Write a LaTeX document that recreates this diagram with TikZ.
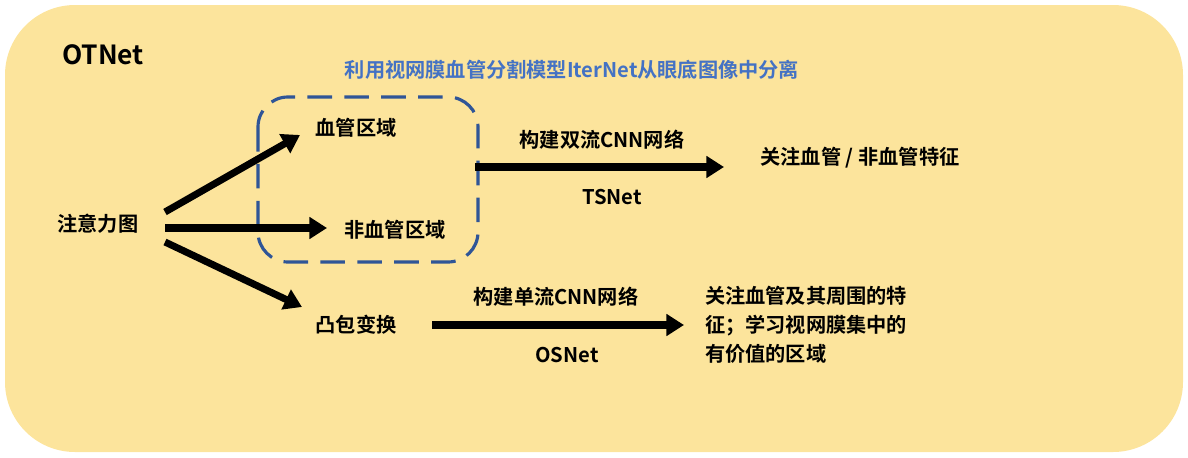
\documentclass[tikz,border=0pt]{standalone}
\usepackage{fontspec}
\setmainfont{Noto Sans CJK SC}[BoldFont={Noto Sans CJK SC Bold}]
\usetikzlibrary{arrows.meta}
\definecolor{bg}{HTML}{FCE49C}
\definecolor{tb}{HTML}{4472C4}
\definecolor{db}{HTML}{2F5597}
\tikzset{
 lab/.style={font=\bfseries\fontsize{11.5}{14}\selectfont, inner sep=1pt},
 arr/.style={line width=4pt, -{Triangle[length=10pt,width=12pt]}}
}
\begin{document}
\begin{tikzpicture}[x=0.02cm,y=-0.02cm]
\useasboundingbox (0,0) rectangle (1188,457);
\fill[bg, rounded corners=1.4cm] (5,5) rectangle (1183,452);
\node[font=\bfseries\fontsize{15}{18}\selectfont] (ot) at (103,55) {OTNet};
\node[lab, text=tb] (title) at (572,70) {利用视网膜血管分割模型IterNet从眼底图像中分离};
\draw[db, line width=1.8pt, dash pattern=on 14pt off 7pt, rounded corners=0.6cm] (258,97) rectangle (478,262);
\node[lab] (att) at (98,224) {注意力图};
\node[lab] (v) at (356,128) {血管区域};
\node[lab] (nv) at (395,230) {非血管区域};
\node[lab] (hull) at (356,325) {凸包变换};
\coordinate (a1) at (165,212); \coordinate (b1) at (300,135);
\coordinate (a2) at (165,228); \coordinate (b2) at (327,228);
\coordinate (a3) at (165,242); \coordinate (b3) at (302,307);
\draw[arr] (a1) -- (b1);
\draw[arr] (a2) -- (b2);
\draw[arr] (a3) -- (b3);
\coordinate (c1) at (475,167); \coordinate (d1) at (724,167);
\draw[arr] (c1) -- (d1);
\node[lab] (l1) at (602,140) {构建双流CNN网络};
\node[lab] (ts) at (612,197) {TSNet};
\node[lab] (r1) at (860,158) {关注血管 / 非血管特征};
\coordinate (c2) at (432,325); \coordinate (d2) at (684,325);
\draw[arr] (c2) -- (d2);
\node[lab] (l2) at (556,297) {构建单流CNN网络};
\node[lab] (os) at (567,355) {OSNet};
\node[lab, anchor=north west, align=left, font=\bfseries\fontsize{11.5}{16.5}\selectfont] (r2) at (703,284) {关注血管及其周围的特\\征；学习视网膜集中的\\有价值的区域};
\end{tikzpicture}
\end{document}
